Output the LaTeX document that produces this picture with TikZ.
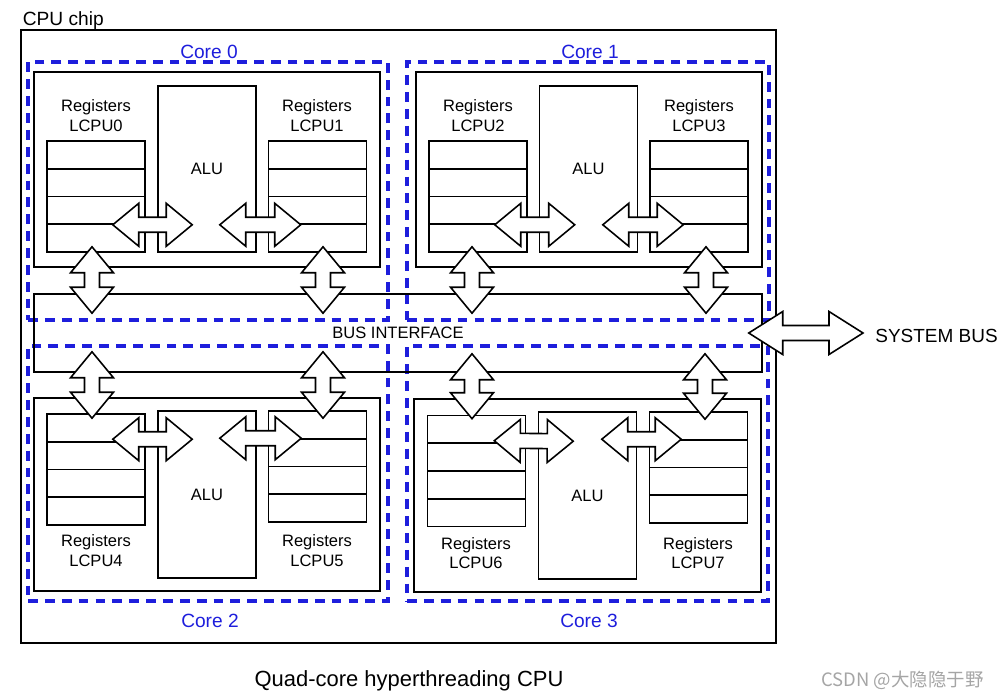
\documentclass[tikz,border=0pt]{standalone}
\usepackage{fontspec}
\setmainfont{Liberation Sans}
\newfontfamily\cjkfont{Noto Sans CJK SC}
\usepackage{xcolor}
\definecolor{coreblue}{RGB}{30,30,220}
\definecolor{wmgray}{RGB}{165,165,165}
\usetikzlibrary{calc,positioning}

\tikzset{
  boxline/.style={draw,line width=0.9pt,inner sep=0pt},
  corebox/.style={draw=coreblue,line width=1.9pt,dash pattern=on 5.6pt off 4pt,inner sep=0pt},
  innerbox/.style={boxline,minimum width=6.92cm},
  alubox/.style={boxline,minimum width=1.96cm,font=\fontsize{9.4}{11}\selectfont},
  regbox/.style={boxline,minimum width=1.96cm,minimum height=2.22cm,
    path picture={\foreach \f in {0.25,0.5,0.75}
      \draw[line width=1pt] ($(path picture bounding box.north west)!\f!(path picture bounding box.south west)$)
        -- ($(path picture bounding box.north east)!\f!(path picture bounding box.south east)$);}},
  reglabel/.style={align=center,inner sep=0pt,font=\fontsize{9.4}{11.1}\selectfont},
  corelabel/.style={anchor=base,inner sep=0pt,text=coreblue,font=\fontsize{10.9}{13}\selectfont},
  blockarrow/.style={draw,fill=white,line width=0.9pt,line join=miter},
}

% block arrow with two heads, #1 = head length
\newcommand\dblarrow[3][0.52cm]{%
  \path #2 coordinate (dA) #3 coordinate (dB);
  \draw[blockarrow] (dA)
    -- ($(dA)!#1!(dB)!0.43cm!90:(dB)$) -- ($(dA)!#1!(dB)!0.15cm!90:(dB)$)
    -- ($(dB)!#1!(dA)!0.15cm!-90:(dA)$) -- ($(dB)!#1!(dA)!0.43cm!-90:(dA)$)
    -- (dB)
    -- ($(dB)!#1!(dA)!0.43cm!90:(dA)$) -- ($(dB)!#1!(dA)!0.15cm!90:(dA)$)
    -- ($(dA)!#1!(dB)!0.15cm!-90:(dB)$) -- ($(dA)!#1!(dB)!0.43cm!-90:(dB)$)
    -- cycle;}

\begin{document}
\begin{tikzpicture}[x=0.02cm,y=-0.02cm]
  \useasboundingbox (0,0) rectangle (1006,697);

  % chip and cores
  \node[boxline,minimum width=15.1cm,minimum height=12.26cm] (chip) at (398.5,336.5) {};
  \node[anchor=base west,inner sep=0pt,font=\fontsize{10.9}{13}\selectfont] (chiplbl) at (22.5,25.7) {CPU chip};

  \node[corebox,minimum width=7.2cm,minimum height=5.16cm] (core0) at (208,191) {};
  \node[corebox,minimum width=7.24cm,minimum height=5.16cm] (core1) at (588,191) {};
  \node[corebox,minimum width=7.2cm,minimum height=5.1cm] (core2) at (208,473.5) {};
  \node[corebox,minimum width=7.22cm,minimum height=5.1cm] (core3) at (587.5,473.5) {};
  \node[corelabel] (cl0) at (209,58) {Core 0};
  \node[corelabel] (cl1) at (590,58) {Core 1};
  \node[corelabel] (cl2) at (210,627) {Core 2};
  \node[corelabel] (cl3) at (589,627) {Core 3};

  \node[innerbox,minimum height=3.9cm] (in0) at (207,169.5) {};
  \node[innerbox,minimum height=3.9cm] (in1) at (589,169.5) {};
  \node[innerbox,minimum height=3.86cm] (in2) at (207,494.5) {};
  \node[innerbox,minimum width=6.94cm,minimum height=3.86cm] (in3) at (587.5,495.5) {};

  % registers and ALUs
  \node[regbox] (reg0) at (96,196.5) {};
  \node[alubox,minimum height=3.32cm] (alu0) at (207,169) {ALU};
  \node[regbox] (reg1) at (317.5,196.5) {};
  \node[regbox] (reg2) at (478,196.5) {};
  \node[alubox,minimum height=3.32cm] (alu1) at (588.5,169) {ALU};
  \node[regbox] (reg3) at (699,196.5) {};
  \node[regbox] (reg4) at (96,469.5) {};
  \node[alubox,minimum height=3.34cm] (alu2) at (207,494.5) {ALU};
  \node[regbox] (reg5) at (317.5,466.5) {};
  \node[regbox] (reg6) at (476.5,471) {};
  \node[alubox,minimum height=3.34cm] (alu3) at (587.5,495.5) {ALU};
  \node[regbox] (reg7) at (698.5,467.5) {};

  \node[reglabel] (rl0) at (96,115.5) {Registers\\LCPU0};
  \node[reglabel] (rl1) at (317,115.5) {Registers\\LCPU1};
  \node[reglabel] (rl2) at (478,115.5) {Registers\\LCPU2};
  \node[reglabel] (rl3) at (699,115.5) {Registers\\LCPU3};
  \node[reglabel] (rl4) at (96,550.7) {Registers\\LCPU4};
  \node[reglabel] (rl5) at (317,550.7) {Registers\\LCPU5};
  \node[reglabel] (rl6) at (476,553.3) {Registers\\LCPU6};
  \node[reglabel] (rl7) at (698,553.3) {Registers\\LCPU7};

  % bus
  \node[boxline,minimum width=14.56cm,minimum height=1.56cm,font=\fontsize{9.4}{11}\selectfont] (bus) at (398,333) {BUS INTERFACE};
  \node[anchor=west,inner sep=0pt,font=\fontsize{10.8}{13}\selectfont] (sysbus) at (875,335.5) {SYSTEM BUS};

  % arrows, core 0
  \dblarrow{($(reg0.south east)+(-33,-28)$)}{($(alu0.south west)+(35,-28)$)}
  \dblarrow{($(alu0.south east)+(-37,-28)$)}{($(reg1.south west)+(33,-28)$)}
  \dblarrow{($(reg0.south)+(-4,-6)$)}{($(reg0.south |- bus.north)+(-4,20)$)}
  \dblarrow{($(reg1.south)+(5.5,-6)$)}{($(reg1.south |- bus.north)+(5.5,20)$)}
  % core 1
  \dblarrow{($(reg2.south east)+(-33,-28)$)}{($(alu1.south west)+(36,-28)$)}
  \dblarrow{($(alu1.south east)+(-35.5,-28)$)}{($(reg3.south west)+(34,-28)$)}
  \dblarrow{($(reg2.south)+(-6,-6)$)}{($(reg2.south |- bus.north)+(-6,20)$)}
  \dblarrow{($(reg3.south)+(7,-6)$)}{($(reg3.south |- bus.north)+(7,20)$)}
  % core 2
  \dblarrow{($(reg4.north east)+(-33,26)$)}{($(alu2.north west)+(35,29)$)}
  \dblarrow{($(alu2.north east)+(-37,28)$)}{($(reg5.north west)+(33.5,28)$)}
  \dblarrow{($(reg4.north |- bus.south)+(-4,-21)$)}{($(reg4.north)+(-4,5)$)}
  \dblarrow{($(reg5.north |- bus.south)+(5.5,-21)$)}{($(reg5.north)+(5.5,8)$)}
  % core 3
  \dblarrow{($(reg6.north east)+(-32,26)$)}{($(alu3.north west)+(35.5,30)$)}
  \dblarrow{($(alu3.north east)+(-35.5,28)$)}{($(reg7.north west)+(32.5,28)$)}
  \dblarrow{($(reg6.north |- bus.south)+(-4.5,-19)$)}{($(reg6.north)+(-4.5,4)$)}
  \dblarrow{($(reg7.north |- bus.south)+(6.5,-19)$)}{($(reg7.north)+(6.5,8)$)}
  % system bus
  \dblarrow[0.68cm]{($(bus.east)+(-14,0)$)}{($(sysbus.west |- bus.east)+(-12,0)$)}

  \node[anchor=base,inner sep=0pt,font=\fontsize{12.5}{15}\selectfont] (title) at (409,686) {Quad-core hyperthreading CPU};
  \node[anchor=base west,inner sep=0pt,text=wmgray,font=\cjkfont\fontsize{10.5}{13}\selectfont] (wm) at (821,686.5) {CSDN @大隐隐于野};
\end{tikzpicture}
\end{document}
